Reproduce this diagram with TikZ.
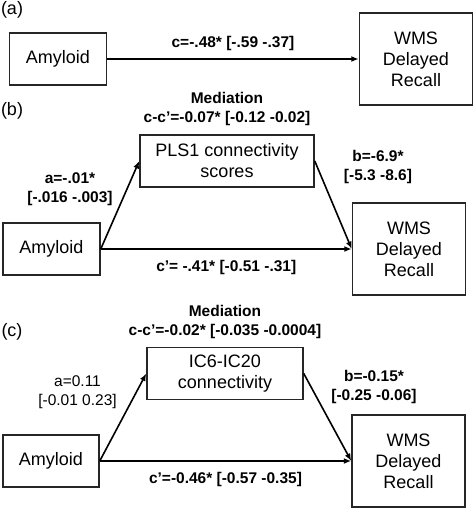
\documentclass[tikz,border=0pt]{standalone}
\usepackage{fontspec}
\setmainfont{Liberation Sans}
\usetikzlibrary{arrows.meta,positioning}

\begin{document}
\begin{tikzpicture}[x=1pt, y=-1pt,
  box/.style={draw=black!85, line width=1.5pt, align=center, inner sep=0pt,
              font=\fontsize{18}{21}\selectfont},
  amybox/.style={box, minimum width=97pt, minimum height=52pt},
  wmsbox/.style={box, minimum width=113pt, minimum height=92pt},
  medbox/.style={box, minimum height=52pt},
  coef/.style={align=center, inner sep=0pt,
               font=\fontsize{15.5}{19}\selectfont\bfseries},
  coefplain/.style={coef, font=\fontsize{15.5}{19}\selectfont},
  panel/.style={inner sep=0pt, font=\fontsize{18}{21}\selectfont},
  flow/.style={-{Latex[length=7.5pt, width=6pt]}, line width=1.6pt, black}
]
\useasboundingbox (0,0) rectangle (474,509);

% (a) total effect
\node[panel] (tagA) at (12,10) {(a)};
\node[amybox] (amyA) at (58,59) {Amyloid};
\node[wmsbox] (wmsA) at (416,59) {WMS\\Delayed\\Recall};
\draw[flow] (amyA) -- node[coef, above=7pt] {c=-.48* {[}-.59 -.37{]}} (wmsA);

% (b) PLS1 mediation
\node[panel] (tagB) at (12,111) {(b)};
\node[amybox] (amyB) at (51.5,249) {Amyloid};
\node[medbox, minimum width=174pt] (plsB) at (227,161) {PLS1 connectivity\\scores};
\node[wmsbox] (wmsB) at (409,249) {WMS\\Delayed\\Recall};
\node[coef, above=8pt of plsB] (medB) {Mediation\\c-c’=-0.07* {[}-0.12 -0.02{]}};
\draw[flow] (amyB.east) -- (plsB.west);
\draw[flow] (plsB.east) -- (wmsB.west);
\draw[flow] (amyB) -- node[coef, below=10pt] {c’= -.41* {[}-0.51 -.31{]}} (wmsB);
\node[coef] (aB) at (70,189) {a=-.01*\\{[}-.016 -.003{]}};
\node[coef] (bB) at (378,167) {b=-6.9*\\{[}-5.3 -8.6{]}};

% (c) IC6-IC20 mediation
\node[panel] (tagC) at (12,332) {(c)};
\node[amybox, minimum width=96pt] (amyC) at (51,461) {Amyloid};
\node[medbox, minimum width=156pt] (icC) at (225,373.5) {IC6-IC20\\connectivity};
\node[wmsbox] (wmsC) at (408.5,461) {WMS\\Delayed\\Recall};
\node[coef, above=8pt of icC] (medC) {Mediation\\c-c’=-0.02* {[}-0.035 -0.0004{]}};
\draw[flow] (amyC.east) -- (icC.west);
\draw[flow] (icC.east) -- (wmsC.west);
\draw[flow] (amyC) -- node[coef, below=10pt] {c’=-0.46* {[}-0.57 -0.35{]}} (wmsC);
\node[coefplain] (aC) at (77.5,392.5) {a=0.11\\{[}-0.01 0.23{]}};
\node[coef] (bC) at (374,387) {b=-0.15*\\{[}-0.25 -0.06{]}};
\end{tikzpicture}
\end{document}
